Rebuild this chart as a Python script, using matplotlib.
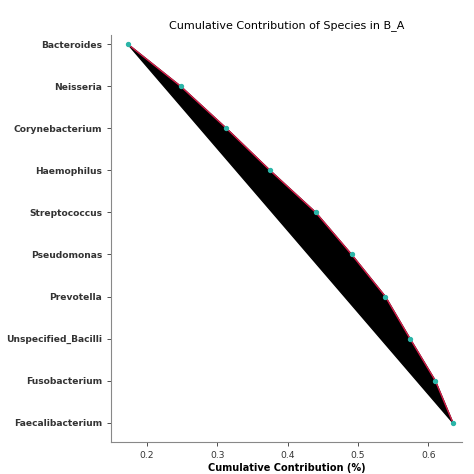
import matplotlib
matplotlib.use("Agg")
import matplotlib.pyplot as plt

species = ["Bacteroides","Neisseria","Corynebacterium","Haemophilus","Streptococcus",
           "Pseudomonas","Prevotella","Unspecified_Bacilli","Fusobacterium","Faecalibacterium"]
cumulative = [0.173,0.248,0.313,0.375,0.440,0.491,0.539,0.574,0.610,0.635]

fig = plt.figure(figsize=(4.74,4.74), dpi=100)
ax = fig.add_axes([111/474, 1-442/474, 351/474, 407/474])
ypos = list(range(len(species)))[::-1]
ax.fill(cumulative, ypos, color="black", zorder=1)
ax.plot(cumulative, ypos, color="#d6204b", lw=1, zorder=2)
ax.scatter(cumulative, ypos, color="#2bb5a8", s=8, zorder=3)
ax.set_yticks(ypos)
ax.set_yticklabels(species, fontweight="bold", fontsize=6.6)
ax.set_xticks([0.2,0.3,0.4,0.5,0.6])
ax.set_xticklabels(["0.2","0.3","0.4","0.5","0.6"], fontsize=6.6)
ax.set_xlim(0.149,0.648)
ax.set_ylim(-0.46,9.22)
ax.set_xlabel("Cumulative Contribution (%)", fontweight="bold", fontsize=7, labelpad=2)
ax.set_title("Cumulative Contribution of Species in B_A", fontsize=8, pad=5)
for s in ["top","right"]:
    ax.spines[s].set_visible(False)
for s in ["left","bottom"]:
    ax.spines[s].set_color("#888888")
ax.tick_params(colors="#333333", length=3, width=0.6)
fig.savefig("out.png", dpi=100)
